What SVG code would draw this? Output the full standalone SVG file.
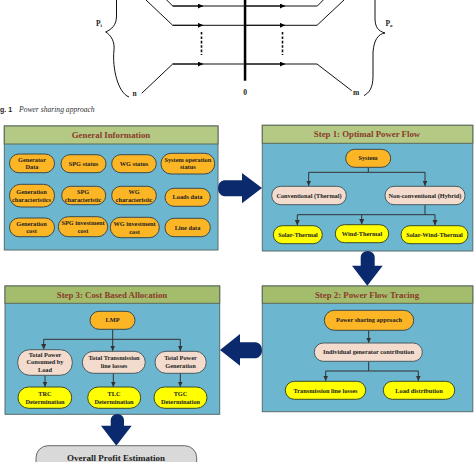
<svg xmlns="http://www.w3.org/2000/svg" width="474" height="462" viewBox="0 0 474 462">
<defs>
<marker id="ah" markerUnits="userSpaceOnUse" markerWidth="6" markerHeight="6" refX="5" refY="2.5" orient="auto"><path d="M0,0L5,2.5L0,5Z" fill="#000"/></marker>
<marker id="ad" markerUnits="userSpaceOnUse" markerWidth="6" markerHeight="6" refX="5.5" refY="2.5" orient="auto"><path d="M0,0L5.5,2.5L0,5Z" fill="#333"/></marker>
</defs>
<style>
text{font-family:"Liberation Serif","Times New Roman",serif;font-weight:bold;text-anchor:middle}
.panel{fill:#6db6d0;stroke:#5a6a6a;stroke-width:1}
.head{fill:#b3c984;stroke:#5a6a5a;stroke-width:1}
.head2{fill:#a3bd6c;stroke:#5a6a5a;stroke-width:1}
.title{font-size:8.8px;fill:#8b3a2a}
.t{font-size:6.3px;fill:#222}
.or rect{fill:#fcb524;stroke:#3c4a4a;stroke-width:1}
.pk rect{fill:#f3dccd;stroke:#4a5a60;stroke-width:1}
.ye rect{fill:#ffff00;stroke:#3c4a2a;stroke-width:1}
.c{fill:none;stroke:#333;stroke-width:1}
.ca{fill:none;stroke:#333;stroke-width:1;marker-end:url(#ad)}
.big{fill:#0b2a6e}
.top{fill:none;stroke:#111;stroke-width:1}
.lab{font-size:7.5px;fill:#222}
</style>
<g id="power-sharing-figure">
<rect x="243.8" y="0" width="2.5" height="80.7" fill="#000"/>
<path class="top" d="M166.7,0L172.7,6H317.3L323.3,0M146,0L172.7,25.3H317L344,0M141.7,93.3L172.7,64H317L351.7,90.7"/>
<path class="top" marker-end="url(#ah)" d="M172.7,6H203"/><path class="top" marker-end="url(#ah)" d="M172.7,25.3H203"/><path class="top" marker-end="url(#ah)" d="M172.7,64H203"/>
<path class="top" marker-end="url(#ah)" d="M246,6H285"/><path class="top" marker-end="url(#ah)" d="M246,25.3H285"/><path class="top" marker-end="url(#ah)" d="M246,64H285"/>
<path d="M201.5,32V55M282.5,32V55" fill="none" stroke="#111" stroke-width="1.6" stroke-dasharray="2.6 1.8"/>
<path class="top" d="M116.5,0V16C116.5,25 112,29 105.7,32C111,35 115,42 114,50C112,68 118,93 129,97"/>
<path class="top" d="M375,0V18C375,27 378,31 385,33C378,34 374,40 373,52V76C373,88 369,93 364,95.5"/>
<text class="lab" x="99" y="25.5">P<tspan font-size="5" dy="1.5">i</tspan></text>
<text class="lab" x="389" y="25.5">P<tspan font-size="5" dy="1.5">o</tspan></text>
<text class="lab" x="134.7" y="96">n</text><text class="lab" x="245" y="94.5">0</text><text class="lab" x="356" y="95">m</text>
<text x="0" y="111.5" style="font-family:'Liberation Sans',sans-serif;font-size:7px;text-anchor:start;fill:#222">g. 1</text>
<text x="19" y="111.5" style="font-size:7.6px;font-style:italic;font-weight:normal;text-anchor:start;fill:#333">Power sharing approach</text>
</g>
<g id="panel-general"><rect class="panel" x="4.3" y="126" width="213.7" height="124"/><rect class="head" x="4.3" y="126" width="213.7" height="18"/><text class="title" x="111" y="137.7">General Information</text></g>
<g id="panel-step1"><rect class="panel" x="262.3" y="125.3" width="210.5" height="125.7"/><rect class="head" x="262.3" y="125.3" width="210.5" height="18"/><text class="title" x="367" y="137">Step 1: Optimal Power Flow</text></g>
<g id="panel-step2"><rect class="panel" x="262.3" y="286" width="210.5" height="125.7"/><rect class="head2" x="262.3" y="286" width="210.5" height="17.3"/><text class="title" x="367" y="297.5">Step 2: Power Flow Tracing</text></g>
<g id="panel-step3"><rect class="panel" x="5" y="286" width="214.7" height="128.3"/><rect class="head2" x="5" y="286" width="214.7" height="17.3"/><text class="title" x="112" y="297.5">Step 3: Cost Based Allocation</text></g>
<g id="connectors">
<path class="c" d="M368.3,167.3V172.3"/><path class="ca" d="M368.3,172.3H308.7V186"/><path class="ca" d="M368.3,172.3H425V186"/>
<path class="c" d="M425,204.7V214.7"/><path class="ca" d="M425,214.7H297.3V225.5"/><path class="ca" d="M361.7,214.7V224.5"/><path class="ca" d="M425,214.7H435V225.5"/>
<path class="ca" d="M368.7,330.3V343"/><path class="c" d="M368.7,361.3V371"/><path class="ca" d="M368.7,371H325.7V381"/><path class="ca" d="M368.7,371H418.3V381"/>
<path class="ca" d="M112.7,329.3V351"/><path class="ca" d="M112.7,339.3H43.7V349.5"/><path class="ca" d="M112.7,339.3H180.3V351"/>
<path class="ca" d="M45,375.3V387"/><path class="ca" d="M113.3,373.3V387"/><path class="ca" d="M180.3,373.3V387"/>
<path class="big" d="M224,180.3H242V173L262,188L242,203.3V196.3H224A8,8 0 0 1 218,188.3A8,8 0 0 1 224,180.3Z"/>
<path class="big" d="M360.7,257V265.7H352L367.3,285.7L382.7,265.7H374.7V257A7,6 0 0 0 367.7,251A7,6 0 0 0 360.7,257Z"/>
<path class="big" d="M220,350L240,334V342.3H256A8,8 0 0 1 262,350.3A8,8 0 0 1 256,358.3H240V365.7Z"/>
<path class="big" d="M110.7,420V425.7H101L116.3,445.7L131.7,425.7H124V420A6.7,6 0 0 0 117.3,414A6.7,6 0 0 0 110.7,420Z"/>
</g>
<g id="n1" class="or"><rect x="9.5" y="154" width="45" height="18.7" rx="9.3"/><text class="t" x="32" y="161.5">Generator</text><text class="t" x="32" y="169">Data</text></g>
<g id="n2" class="or"><rect x="61" y="154.7" width="45" height="18" rx="9"/><text class="t" x="83.5" y="165.5">SPG status</text></g>
<g id="n3" class="or"><rect x="111.7" y="154.7" width="44.6" height="18" rx="9"/><text class="t" x="134" y="165.5">WG status</text></g>
<g id="n4" class="or"><rect x="161" y="153.3" width="53.7" height="20.7" rx="10"/><text class="t" x="187.8" y="161.5">System operation</text><text class="t" x="187.8" y="169.3">status</text></g>
<g id="n5" class="or"><rect x="9.5" y="184.3" width="45" height="22.7" rx="11"/><text class="t" x="31.5" y="193.5">Generation</text><text class="t" x="31.5" y="201.5">characteristics</text></g>
<g id="n6" class="or"><rect x="61.7" y="186.3" width="44" height="18.4" rx="9"/><text class="t" x="83" y="193.5">SPG</text><text class="t" x="83" y="201.5">characteristic</text></g>
<g id="n7" class="or"><rect x="111.7" y="186.3" width="44.6" height="18.4" rx="9"/><text class="t" x="134" y="193.5">WG</text><text class="t" x="134" y="201.5">characteristic</text></g>
<g id="n8" class="or"><rect x="165" y="188.3" width="45.3" height="18" rx="9"/><text class="t" x="187.5" y="199">Loads data</text></g>
<g id="n9" class="or"><rect x="9.5" y="218" width="45" height="18.7" rx="9.3"/><text class="t" x="31.5" y="225.5">Generation</text><text class="t" x="31.5" y="233">cost</text></g>
<g id="n10" class="or"><rect x="58.3" y="216.7" width="49.4" height="20" rx="10"/><text class="t" x="83" y="225">SPG investment</text><text class="t" x="83" y="232.5">cost</text></g>
<g id="n11" class="or"><rect x="110.3" y="217.3" width="49" height="20.4" rx="10"/><text class="t" x="134.5" y="225.5">WG investment</text><text class="t" x="134.5" y="233.5">cost</text></g>
<g id="n12" class="or"><rect x="165" y="218.3" width="45.3" height="18.4" rx="9"/><text class="t" x="187.5" y="229.5">Line data</text></g>
<g id="s1a" class="or"><rect x="345.7" y="149.3" width="45" height="18" rx="9"/><text class="t" x="368" y="160">System</text></g>
<g id="s1b" class="pk"><rect x="271.7" y="186.3" width="74.6" height="18.4" rx="9"/><text class="t" x="309" y="197.5">Conventional (Thermal)</text></g>
<g id="s1c" class="pk"><rect x="385" y="186.3" width="80" height="18.4" rx="9"/><text class="t" x="425" y="197.5">Non-conventional (Hybrid)</text></g>
<g id="s1d" class="ye"><rect x="273.3" y="225.7" width="49" height="18" rx="9"/><text class="t" x="298" y="236.5">Solar-Thermal</text></g>
<g id="s1e" class="ye"><rect x="335.3" y="224.7" width="53.4" height="18" rx="9"/><text class="t" x="362" y="235.5">Wind-Thermal</text></g>
<g id="s1f" class="ye"><rect x="401" y="225.7" width="67" height="18" rx="9"/><text class="t" x="434.5" y="236.5">Solar-Wind-Thermal</text></g>
<g id="s2a" class="or"><rect x="324.3" y="310.3" width="89.4" height="20" rx="10"/><text class="t" x="369" y="322">Power sharing approach</text></g>
<g id="s2b" class="pk"><rect x="314.3" y="343" width="108" height="18.3" rx="9"/><text class="t" x="368.5" y="354">Individual generator contribution</text></g>
<g id="s2c" class="ye"><rect x="285.3" y="381.3" width="80.4" height="18" rx="9"/><text class="t" x="325.5" y="392.5">Transmission line losses</text></g>
<g id="s2d" class="ye"><rect x="383.3" y="381.3" width="71.4" height="18" rx="9"/><text class="t" x="419" y="392.5">Load distribution</text></g>
<g id="s3a" class="or"><rect x="90" y="311.3" width="45" height="18" rx="9"/><text class="t" x="112.5" y="322">LMP</text></g>
<g id="s3b" class="pk"><rect x="17.7" y="349.7" width="54.6" height="25.6" rx="12"/><text class="t" x="45" y="356.5">Total Power</text><text class="t" x="45" y="364">Consumed by</text><text class="t" x="45" y="371.5">Load</text></g>
<g id="s3c" class="pk"><rect x="82.3" y="351.3" width="63" height="22" rx="11"/><text class="t" x="114" y="360">Total Transmission</text><text class="t" x="114" y="368">line losses</text></g>
<g id="s3d" class="pk"><rect x="155" y="351.3" width="51.3" height="22" rx="11"/><text class="t" x="180.5" y="360">Total Power</text><text class="t" x="180.5" y="368">Generation</text></g>
<g id="s3e" class="ye"><rect x="18" y="387" width="53.7" height="21.3" rx="10.6"/><text class="t" x="45" y="395.5">TRC</text><text class="t" x="45" y="403.5">Determination</text></g>
<g id="s3f" class="ye"><rect x="87.7" y="387" width="53" height="21.3" rx="10.6"/><text class="t" x="114" y="395.5">TLC</text><text class="t" x="114" y="403.5">Determination</text></g>
<g id="s3g" class="ye"><rect x="154" y="387" width="53" height="21.3" rx="10.6"/><text class="t" x="180.5" y="395.5">TGC</text><text class="t" x="180.5" y="403.5">Determination</text></g>
<g id="overall"><rect x="36" y="445.7" width="160.7" height="40" rx="12" fill="#d9d9d9" stroke="#666" stroke-width="1"/><text x="116" y="461" style="font-size:9px;fill:#222">Overall Profit Estimation</text></g>
</svg>
